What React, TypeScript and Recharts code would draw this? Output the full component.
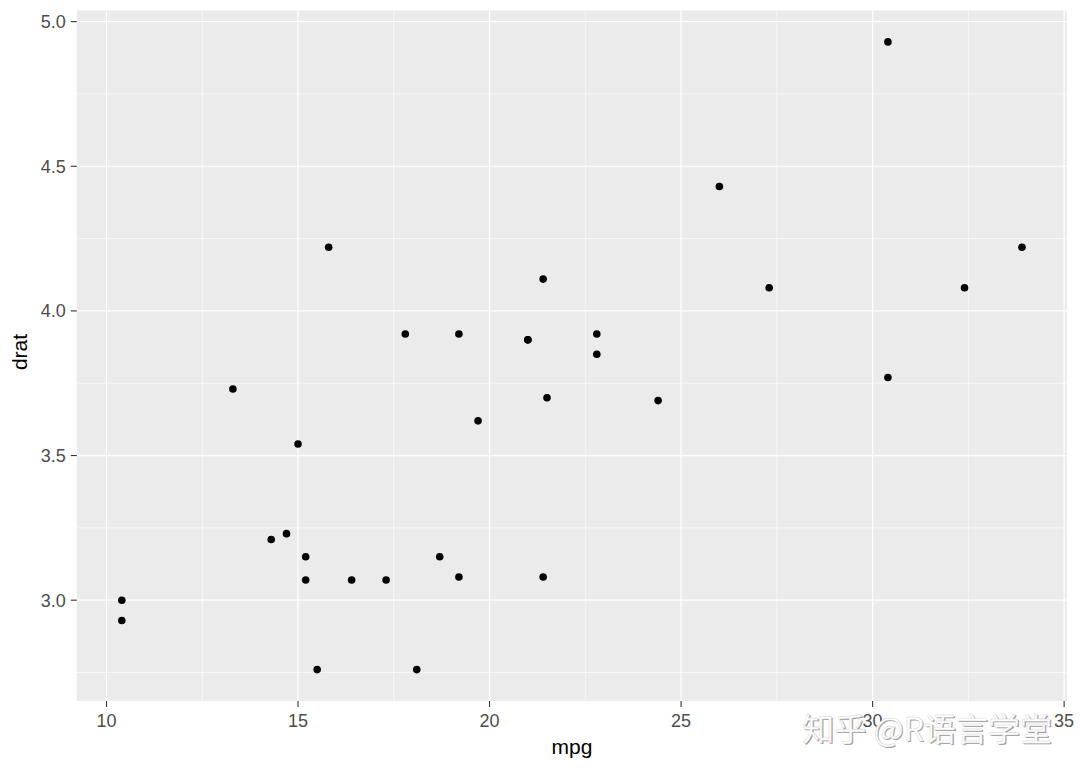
import { ScatterChart, Scatter, XAxis, YAxis, CartesianGrid } from "recharts"

// mtcars: mpg vs drat
const mpg = [
  21.0, 21.0, 22.8, 21.4, 18.7, 18.1, 14.3, 24.4, 22.8, 19.2, 17.8, 16.4, 17.3, 15.2, 10.4, 10.4,
  14.7, 32.4, 30.4, 33.9, 21.5, 15.5, 15.2, 13.3, 19.2, 27.3, 26.0, 30.4, 15.8, 19.7, 15.0, 21.4,
]
const drat = [
  3.9, 3.9, 3.85, 3.08, 3.15, 2.76, 3.21, 3.69, 3.92, 3.92, 3.92, 3.07, 3.07, 3.07, 2.93, 3.0,
  3.23, 4.08, 4.93, 4.22, 3.7, 2.76, 3.15, 3.73, 3.08, 4.08, 4.43, 3.77, 4.22, 3.62, 3.54, 4.11,
]
const xTicks = [10, 15, 20, 25, 30, 35]
const yTicks = [3.0, 3.5, 4.0, 4.5, 5.0]
const xMinor = [12.5, 17.5, 22.5, 27.5, 32.5]
const yMinor = [2.75, 3.25, 3.75, 4.25, 4.75]

const W = 1080
const H = 771
const FONT = '"Liberation Sans", Arial, sans-serif'

const points = mpg.map((m, i) => ({ mpg: m, drat: drat[i] }))

function Dot(props: any) {
  const { cx, cy } = props
  if (cx == null || cy == null) return null
  return <circle cx={cx} cy={cy} r={3.8} fill="#000" />
}

export default function App() {
  return (
    <div style={{ position: "relative", width: W, height: H, background: "#fff" }}>
      <style>{"body{margin:0}"}</style>
      <ScatterChart width={W} height={H} margin={{ top: 10.5, right: 13, bottom: 0, left: 0 }}>
        <CartesianGrid
          fill="#EBEBEB"
          stroke="#fff"
          strokeWidth={0.6}
          verticalValues={xMinor}
          horizontalValues={yMinor}
        />
        <CartesianGrid stroke="#fff" strokeWidth={1.2} verticalValues={xTicks} horizontalValues={yTicks} />
        <XAxis
          type="number"
          dataKey="mpg"
          domain={[9.225, 35.075]}
          ticks={xTicks}
          allowDataOverflow
          height={70}
          axisLine={false}
          tickLine={{ stroke: "#333", strokeWidth: 1.1 }}
          tickSize={6}
          tickMargin={7}
          tick={{ fill: "#4D4D4D", fontSize: 18, fontFamily: FONT }}
        />
        <YAxis
          type="number"
          dataKey="drat"
          domain={[2.6515, 5.0385]}
          ticks={yTicks}
          tickFormatter={(v: number) => v.toFixed(1)}
          allowDataOverflow
          width={76.8}
          axisLine={false}
          tickLine={{ stroke: "#333", strokeWidth: 1.1 }}
          tickSize={6}
          tickMargin={5}
          tick={{ fill: "#4D4D4D", fontSize: 18, fontFamily: FONT }}
        />
        <Scatter data={points} shape={<Dot />} isAnimationActive={false} />
      </ScatterChart>
      <svg
        width={W}
        height={H}
        style={{ position: "absolute", left: 0, top: 0, pointerEvents: "none" }}
      >
        <text x={572} y={754} textAnchor="middle" fontSize={21} fontFamily={FONT} fill="#000">
          mpg
        </text>
        <text
          x={27}
          y={352}
          textAnchor="middle"
          fontSize={21}
          fontFamily={FONT}
          fill="#000"
          transform="rotate(-90 27 352)"
        >
          drat
        </text>
        <g fontFamily='"Noto Sans CJK SC", sans-serif' fontSize={32}>
          <text x={1052} y={741} textAnchor="end" fill="#9a9a9a" transform="translate(1.2 1.2)">
            知乎 @R语言学堂
          </text>
          <text x={1052} y={741} textAnchor="end" fill="#ffffff" stroke="#d0d0d0" strokeWidth={0.4}>
            知乎 @R语言学堂
          </text>
        </g>
      </svg>
    </div>
  )
}
